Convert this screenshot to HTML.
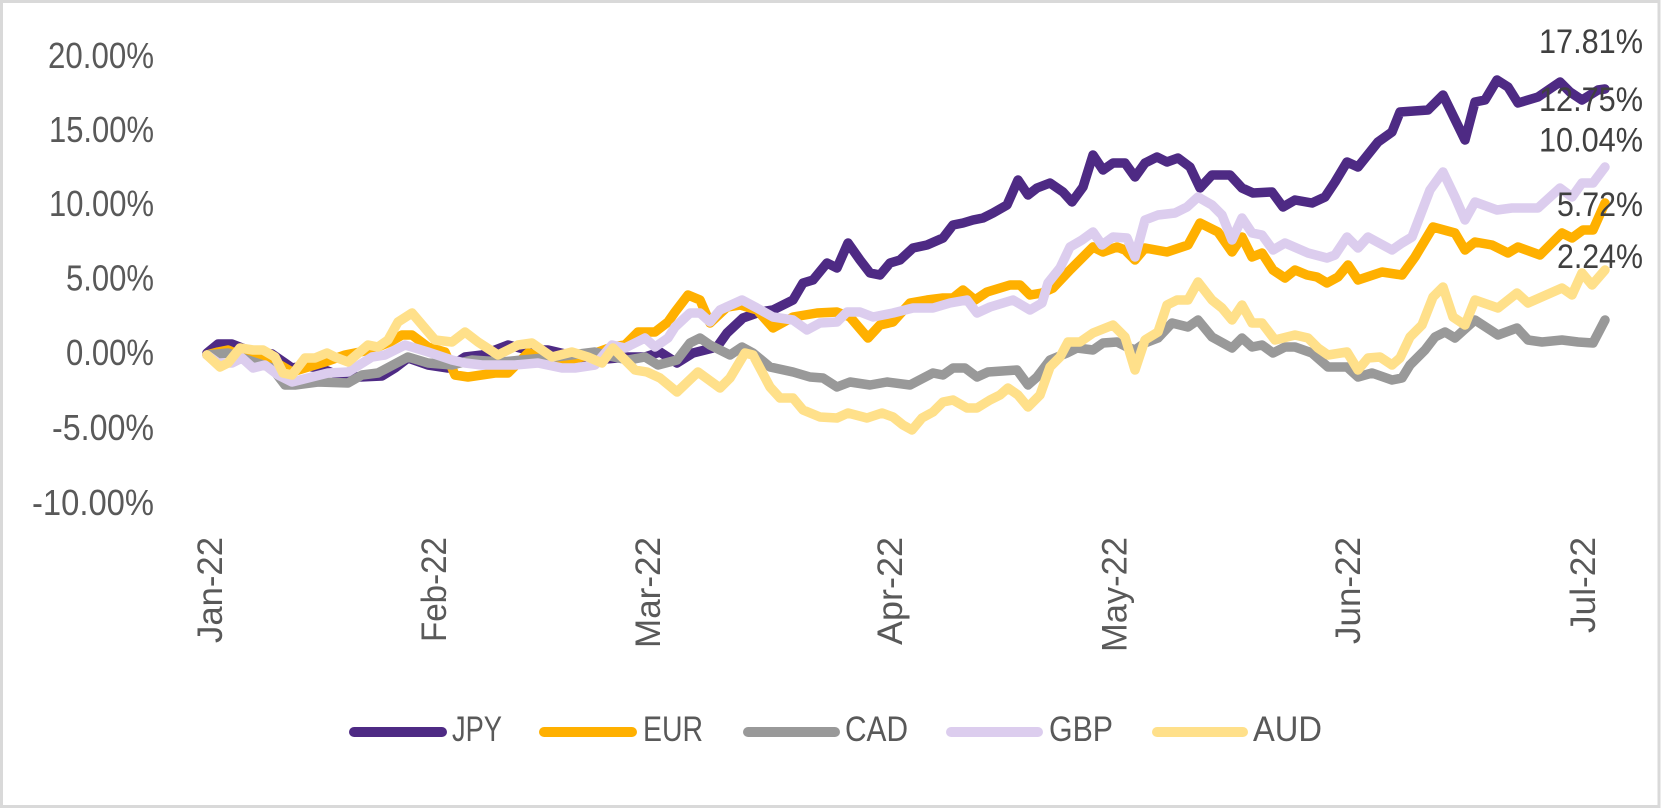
<!DOCTYPE html>
<html>
<head>
<meta charset="utf-8">
<style>
  html,body{margin:0;padding:0;background:#fff;}
  svg{display:block;}
  text{font-family:"Liberation Sans","DejaVu Sans",sans-serif;}
</style>
</head>
<body>
<svg width="1661" height="808" viewBox="0 0 1661 808" xmlns="http://www.w3.org/2000/svg">
  <rect x="0" y="0" width="1661" height="808" fill="#ffffff"/>
  <rect x="1.5" y="1.5" width="1657.5" height="805" fill="none" stroke="#d9d9d9" stroke-width="3"/>

  <!-- Y axis labels -->
  <g fill="#595959" font-size="36" lengthAdjust="spacingAndGlyphs">
    <text x="48" y="68" textLength="106" lengthAdjust="spacingAndGlyphs">20.00%</text>
    <text x="49" y="142" textLength="105" lengthAdjust="spacingAndGlyphs">15.00%</text>
    <text x="49" y="216" textLength="105" lengthAdjust="spacingAndGlyphs">10.00%</text>
    <text x="66" y="290.5" textLength="88" lengthAdjust="spacingAndGlyphs">5.00%</text>
    <text x="66" y="365" textLength="88" lengthAdjust="spacingAndGlyphs">0.00%</text>
    <text x="52" y="440" textLength="102" lengthAdjust="spacingAndGlyphs">-5.00%</text>
    <text x="32" y="515" textLength="122" lengthAdjust="spacingAndGlyphs">-10.00%</text>
  </g>

  <!-- X axis labels (rotated) -->
  <g fill="#595959" font-size="35">
    <text transform="translate(222,643) rotate(-90)" textLength="106" lengthAdjust="spacingAndGlyphs">Jan-22</text>
    <text transform="translate(446,642) rotate(-90)" textLength="105" lengthAdjust="spacingAndGlyphs">Feb-22</text>
    <text transform="translate(660,648) rotate(-90)" textLength="111" lengthAdjust="spacingAndGlyphs">Mar-22</text>
    <text transform="translate(902,645) rotate(-90)" textLength="108" lengthAdjust="spacingAndGlyphs">Apr-22</text>
    <text transform="translate(1126.5,652) rotate(-90)" textLength="115" lengthAdjust="spacingAndGlyphs">May-22</text>
    <text transform="translate(1360,644) rotate(-90)" textLength="107" lengthAdjust="spacingAndGlyphs">Jun-22</text>
    <text transform="translate(1595,633) rotate(-90)" textLength="96" lengthAdjust="spacingAndGlyphs">Jul-22</text>
  </g>

  <!-- Series -->
  <g fill="none" stroke-width="9.5" stroke-linejoin="round" stroke-linecap="round">
    <!-- JPY -->
    <polyline stroke="#4e2a84" points="207,353 218,344 232,344 245,349 258,352 272,354 285,363 292,368 305,366 320,368 338,375 360,377 382,376 395,368 408,358 428,365 448,368 465,357 482,355 508,345 528,350 548,350 578,357 595,360 628,357 645,357 660,352 677,363 693,353 717,347 727,333 743,318 760,312 773,310 793,300 803,283 813,280 827,263 837,268 848,243 860,260 870,273 880,275 890,263 900,260 913,248 927,245 943,238 953,225 963,223 973,220 983,218 993,213 1007,205 1018,180 1028,195 1037,188 1050,183 1063,192 1072,202 1083,187 1093,155 1103,170 1113,163 1125,163 1135,177 1145,163 1157,157 1167,162 1178,158 1190,167 1200,188 1212,175 1230,175 1242,188 1253,193 1272,192 1283,207 1295,200 1312,203 1325,197 1335,182 1347,162 1358,167 1378,142 1392,132 1400,112 1428,110 1443,95 1465,140 1475,102 1485,100 1497,80 1508,87 1518,103 1538,97 1560,82 1570,92 1582,100 1598,90 1605,89"/>
    <!-- EUR -->
    <polyline stroke="#ffb000" points="207,355 218,352 228,350 245,357 262,358 280,365 292,372 305,368 325,362 345,355 370,350 390,342 402,335 412,335 428,347 445,352 455,375 468,377 495,373 508,373 528,353 545,357 562,362 590,355 612,347 625,345 638,332 655,332 668,322 675,312 688,295 700,300 710,323 727,307 740,305 757,310 773,328 793,317 817,313 837,312 850,317 868,338 880,325 893,322 910,303 927,300 943,298 953,298 963,290 975,300 987,292 1010,285 1020,285 1030,295 1042,293 1053,288 1070,270 1093,247 1103,252 1117,247 1125,250 1135,260 1145,248 1167,252 1188,245 1200,223 1218,232 1232,252 1242,237 1252,257 1262,253 1273,270 1285,278 1295,270 1307,275 1317,277 1327,283 1338,277 1348,265 1358,280 1382,272 1402,275 1415,257 1433,227 1455,233 1465,250 1475,242 1492,245 1508,253 1518,247 1540,255 1562,233 1572,238 1583,230 1593,230 1605,203"/>
    <!-- CAD -->
    <polyline stroke="#999999" points="207,355 228,353 248,360 272,368 285,385 295,385 318,382 348,383 362,375 378,373 408,357 428,363 452,365 472,360 502,362 522,360 555,357 595,352 605,355 628,360 645,357 658,365 677,360 690,343 700,338 710,345 730,355 742,347 753,353 770,367 793,372 810,377 823,378 837,387 850,382 870,385 887,382 910,385 933,373 943,375 953,368 965,368 977,377 988,372 1017,370 1028,385 1037,377 1050,360 1067,353 1077,348 1093,350 1103,343 1117,342 1127,347 1135,350 1145,343 1158,338 1172,323 1188,327 1198,320 1212,337 1232,348 1242,338 1252,347 1262,345 1273,353 1285,347 1295,347 1312,353 1328,367 1347,367 1358,377 1372,373 1392,380 1402,378 1410,365 1425,350 1435,337 1445,332 1455,338 1475,320 1498,335 1517,328 1528,340 1542,342 1562,340 1578,342 1593,343 1605,320"/>
    <!-- GBP -->
    <polyline stroke="#dccdee" points="207,355 218,363 232,363 242,358 253,368 265,365 278,375 292,382 308,378 328,373 348,372 372,357 385,355 405,345 428,352 452,360 465,363 482,365 515,365 538,363 562,368 575,368 595,365 612,345 625,348 645,338 655,347 668,338 675,327 690,313 700,313 710,322 720,310 742,300 757,308 773,317 793,320 807,330 820,323 837,322 847,312 860,312 873,317 893,313 913,308 933,308 950,303 967,300 977,313 990,307 1013,300 1030,310 1042,303 1048,283 1060,268 1070,247 1082,240 1093,232 1102,245 1113,237 1127,238 1135,257 1145,220 1158,215 1175,213 1187,207 1198,197 1212,205 1222,215 1232,240 1242,218 1252,233 1262,235 1273,250 1285,243 1308,253 1327,258 1335,255 1347,237 1358,248 1368,237 1392,250 1402,243 1412,237 1430,190 1443,172 1455,197 1465,220 1475,202 1497,210 1512,208 1538,208 1560,188 1572,197 1582,183 1593,183 1605,167"/>
    <!-- AUD -->
    <polyline stroke="#ffe08a" points="207,355 220,367 228,363 240,348 253,350 263,350 275,357 283,373 292,375 305,358 315,358 327,353 335,357 348,362 368,345 378,347 388,340 398,322 412,313 435,340 452,342 465,332 478,342 498,355 518,345 532,343 552,357 572,352 588,357 602,363 613,348 625,360 635,370 647,372 660,378 677,392 698,372 720,388 730,378 745,353 753,355 770,387 780,398 793,398 803,410 820,417 837,418 848,413 867,418 882,413 893,417 903,425 912,430 922,418 933,412 943,402 953,400 967,408 977,408 990,400 1000,395 1008,388 1018,395 1028,407 1040,395 1050,367 1060,357 1068,342 1080,342 1093,333 1113,325 1125,337 1135,370 1145,340 1158,332 1167,305 1177,300 1188,300 1198,282 1212,300 1222,308 1232,320 1242,305 1252,323 1262,323 1275,340 1295,335 1308,338 1318,348 1328,355 1347,352 1358,370 1368,358 1380,357 1392,365 1400,358 1410,337 1422,325 1433,297 1443,287 1453,317 1465,325 1475,300 1498,308 1517,293 1528,303 1562,288 1572,295 1582,273 1592,285 1605,270"/>
  </g>

  <!-- Data labels -->
  <g fill="#404040" font-size="34">
    <text x="1539" y="53" textLength="104" lengthAdjust="spacingAndGlyphs">17.81%</text>
    <text x="1539" y="111" textLength="104" lengthAdjust="spacingAndGlyphs">12.75%</text>
    <text x="1539" y="151.5" textLength="104" lengthAdjust="spacingAndGlyphs">10.04%</text>
    <text x="1557" y="216" textLength="86" lengthAdjust="spacingAndGlyphs">5.72%</text>
    <text x="1557" y="268" textLength="86" lengthAdjust="spacingAndGlyphs">2.24%</text>
  </g>

  <!-- Legend -->
  <g stroke-width="10" stroke-linecap="round">
    <line x1="354" y1="732" x2="442" y2="732" stroke="#4e2a84"/>
    <line x1="544" y1="732" x2="632" y2="732" stroke="#ffb000"/>
    <line x1="748" y1="732" x2="835" y2="732" stroke="#999999"/>
    <line x1="951" y1="732" x2="1038" y2="732" stroke="#dccdee"/>
    <line x1="1157" y1="732" x2="1243" y2="732" stroke="#ffe08a"/>
  </g>
  <g fill="#595959" font-size="35">
    <text x="452" y="741" textLength="50" lengthAdjust="spacingAndGlyphs">JPY</text>
    <text x="643" y="741" textLength="60" lengthAdjust="spacingAndGlyphs">EUR</text>
    <text x="845" y="741" textLength="63" lengthAdjust="spacingAndGlyphs">CAD</text>
    <text x="1049" y="741" textLength="64" lengthAdjust="spacingAndGlyphs">GBP</text>
    <text x="1253" y="741" textLength="69" lengthAdjust="spacingAndGlyphs">AUD</text>
  </g>
</svg>
</body>
</html>
